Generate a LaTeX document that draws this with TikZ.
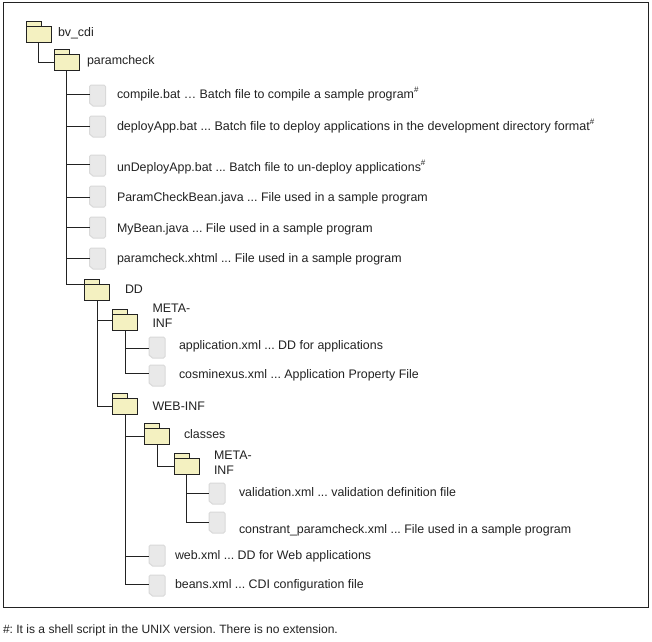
\documentclass[tikz,border=0pt]{standalone}
\usepackage{fontspec}
\setmainfont{Liberation Sans}
\frenchspacing
\definecolor{ln}{HTML}{222222}
\definecolor{fold}{HTML}{F4F1C1}
\definecolor{filefill}{HTML}{E9E9E9}
\definecolor{fileedge}{HTML}{D9D9D9}
\definecolor{txt}{HTML}{222222}
\tikzset{
  wire/.style={draw=ln,line width=1pt},
  frameline/.style={draw=ln,line width=1pt},
  folderbody/.style={draw=ln,fill=fold,line width=1pt,rectangle,inner sep=0pt,minimum width=25pt,minimum height=16pt,outer sep=0pt},
  foldertab/.style={draw=ln,fill=fold,line width=1pt},
  filebox/.style={rectangle,inner sep=0pt,minimum width=16pt,minimum height=21pt,outer sep=0pt},
  fileshape/.style={draw=fileedge,fill=filefill,line width=1pt,line join=round},
  lbl/.style={anchor=base west,inner sep=0pt,outer sep=0pt,text=txt,font=\fontsize{12.4pt}{15pt}\selectfont},
  lblm/.style={anchor=west,align=left,inner sep=0pt,outer sep=0pt,text=txt,font=\fontsize{12.4pt}{15pt}\selectfont},
  notelbl/.style={lbl,font=\fontsize{12.05pt}{15pt}\selectfont},
  widelbl/.style={lbl,font=\fontsize{12.53pt}{15pt}\selectfont},
}
\newcommand{\foldermark}[4]{% name, left x, body top y, trunk offset
  \node[folderbody,anchor=north west] (#1) at (#2,#3) {};
  \draw[foldertab] (#1.north west) -- ++(0,-5) -- ++(15,0) -- ++(0,5) -- cycle;
  \coordinate (#1t) at ([xshift=#4pt]#1.south);
}
\newcommand{\filemark}[3]{% name, left x, top y
  \node[filebox,anchor=north west] (#1) at (#2,#3) {};
  \draw[fileshape] (#1.north west) ++(1.5,0) -- ($(#1.north east)+(-1.5,0)$) -- ($(#1.north east)+(0,1.5)$)
    -- ($(#1.south east)+(0,-1.5)$) -- ($(#1.south east)+(-1.5,0)$) -- ($(#1.south west)+(3.5,0)$)
    -- ($(#1.south west)+(0,-3)$) -- ($(#1.north west)+(0,1.5)$) -- cycle;
}
\newcommand{\hashmark}{\raisebox{6pt}{\fontsize{8pt}{8pt}\selectfont\#}}
\usetikzlibrary{calc}
\begin{document}
\begin{tikzpicture}[x=1pt,y=-1pt]
\useasboundingbox (0,0) rectangle (652,641);
\fill[white] (0,0) rectangle (652,641);
\coordinate (fa) at (3.5,2.5);
\coordinate (fb) at (648.5,607.5);
\draw[frameline] (fa) rectangle (fb);

\foldermark{bv}{26.5}{26.5}{-.5}
\foldermark{pc}{54.5}{54.5}{-.5}
\foldermark{dd}{84.5}{284.5}{.5}
\foldermark{metaa}{112.5}{314.5}{0}
\foldermark{web}{112.5}{398.5}{0}
\foldermark{cls}{144.5}{428.5}{.5}
\foldermark{metab}{174.5}{458.5}{-.5}

\filemark{compile}{89.5}{85}
\filemark{deploy}{89.5}{116}
\filemark{undeploy}{89.5}{155}
\filemark{bean}{89.5}{186}
\filemark{mybean}{89.5}{217}
\filemark{xhtml}{89.5}{248}
\filemark{appx}{149}{337}
\filemark{cosm}{149}{365}
\filemark{valid}{209}{483}
\filemark{constr}{209}{512}
\filemark{webx}{149}{545}
\filemark{beans}{149}{575}

\draw[wire] (bvt) |- ([yshift=.5pt]pc.west);
\draw[wire] (pct) |- ([yshift=1pt]compile.west);
\draw[wire] (pct) |- (deploy.west);
\draw[wire] (pct) |- ([yshift=1pt]undeploy.west);
\draw[wire] (pct) |- ([yshift=-.5pt]bean.west);
\draw[wire] (pct) |- (mybean.west);
\draw[wire] (pct) |- ([yshift=.5pt]xhtml.west);
\draw[wire] (pct) |- (dd.north west);
\draw[wire] (ddt) |- ([yshift=2pt]metaa.west);
\draw[wire] (ddt) |- ([yshift=.5pt]web.west);
\draw[wire] (metaat) |- ([yshift=-.5pt]appx.west);
\draw[wire] (metaat) |- ([yshift=2pt]cosm.west);
\draw[wire] (webt) |- (cls.west);
\draw[wire] (webt) |- ([yshift=-.5pt]webx.west);
\draw[wire] (webt) |- ([yshift=1.5pt]beans.west);
\draw[wire] (clst) |- (metab.west);
\draw[wire] (metabt) |- ([yshift=.5pt]valid.west);
\draw[wire] (metabt) |- (constr.west);

\node[lbl] (tbv) at (58,36) {bv\_cdi};
\node[lbl] (tpc) at (87,64) {paramcheck};
\node[lbl] (tcompile) at (117,98) {compile.bat … Batch file to compile a sample program\hashmark};
\node[widelbl] (tdeploy) at (117,130) {deployApp.bat ... Batch file to deploy applications in the development directory format\hashmark};
\node[lbl] (tundeploy) at (117,171) {unDeployApp.bat ... Batch file to un-deploy applications\hashmark};
\node[lbl] (tbean) at (117,201) {ParamCheckBean.java ... File used in a sample program};
\node[lbl] (tmybean) at (117,232) {MyBean.java ... File used in a sample program};
\node[lbl] (txhtml) at (117,262) {paramcheck.xhtml ... File used in a sample program};
\node[lbl] (tdd) at (125,293.5) {DD};
\node[lblm] (tmetaa) at (152.5,315.5) {META-\\INF};
\node[lbl] (tappx) at (179,349.5) {application.xml ... DD for applications};
\node[lbl] (tcosm) at (179,378) {cosminexus.xml ... Application Property File};
\node[lbl] (tweb) at (152.5,410) {WEB-INF};
\node[lbl] (tcls) at (184,438) {classes};
\node[lblm] (tmetab) at (214,463) {META-\\INF};
\node[lbl] (tvalid) at (239,496) {validation.xml ... validation definition file};
\node[lbl] (tconstr) at (239,533) {constrant\_paramcheck.xml ... File used in a sample program};
\node[lbl] (twebx) at (175,559) {web.xml ... DD for Web applications};
\node[lbl] (tbeans) at (175,588) {beans.xml ... CDI configuration file};
\node[notelbl] (tnote) at (3,633) {\#: It is a shell script in the UNIX version. There is no extension.};
\end{tikzpicture}
\end{document}
